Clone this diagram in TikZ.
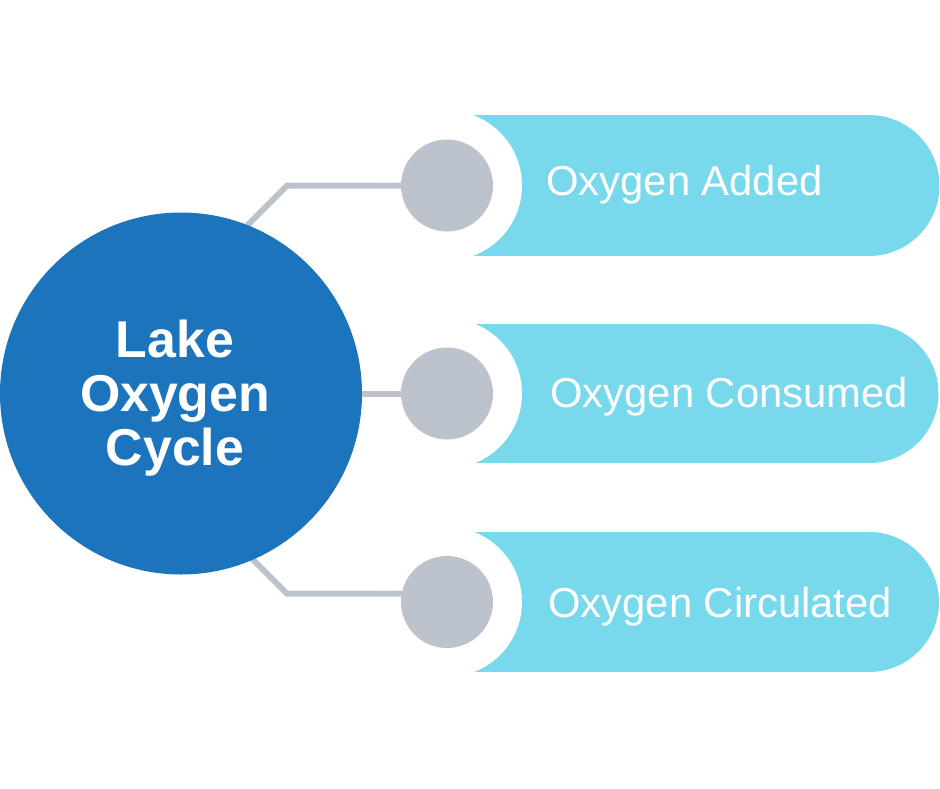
\documentclass[tikz,border=0pt]{standalone}
\usepackage{fontspec}
\setmainfont{Liberation Sans}
\usetikzlibrary{backgrounds}
\definecolor{hubblue}{HTML}{1C75BC}
\definecolor{pillcyan}{HTML}{78D9EC}
\definecolor{dotgrey}{HTML}{BDC3CD}
\tikzset{
  pill/.style={fill=pillcyan},
  cutout/.style={fill=white},
  conn/.style={draw=dotgrey, line width=6pt},
  dot/.style={circle, fill=dotgrey, minimum size=92pt, inner sep=0pt},
  hub/.style={circle, fill=hubblue, minimum size=362pt, inner sep=0pt},
  hubtext/.style={text=white, inner sep=0pt, anchor=base, font=\fontsize{51.8}{54}\selectfont\bfseries},
  pilltext/.style={text=white, inner sep=0pt, anchor=base west, font=\fontsize{41.8}{50}\selectfont}
}
\begin{document}
\begin{tikzpicture}[x=1pt,y=-1pt]
\useasboundingbox (0,0) rectangle (940,788);
% nodes
\node[hub] (hub) at (181,393.5) {};
\node[dot] (g1) at (447,185.5) {};
\node[dot] (g2) at (447,393.5) {};
\node[dot] (g3) at (447,602) {};
\coordinate (k1) at (287,185.5);
\coordinate (e1) at (207,265.5);
\coordinate (k3) at (287,593.5);
\coordinate (e3) at (217,523.5);
\coordinate (h3) at (g3.center |- k3);
\begin{scope}[on background layer]
% pills
\fill[pill] (450,115) rectangle (869,256);
\fill[pill] (869,185.5) circle (70.5);
\fill[pill] (450,324) rectangle (869,463);
\fill[pill] (869,393.5) circle (69.5);
\fill[pill] (450,532) rectangle (869,672);
\fill[pill] (869,602) circle (70);
% white cut-outs
\fill[cutout] (447,185.5) circle (75);
\fill[cutout] (447,393.5) circle (75);
\fill[cutout] (447,602) circle (75);
% connectors
\draw[conn] (e1) -- (k1) -- (g1.center);
\draw[conn] (e3) -- (k3) -- (h3);
\draw[conn] (hub.center) -- (g2.center);
\end{scope}
% hub text
\node[hubtext] (t1) at (175,357) {Lake};
\node[hubtext] (t2) at (175,411.5) {Oxygen};
\node[hubtext] (t3) at (175,465.5) {Cycle};
% pill texts
\node[pilltext] (p1) at (546,195.5) {Oxygen Added};
\node[pilltext] (p2) at (550,407.5) {Oxygen Consumed};
\node[pilltext] (p3) at (548,617.5) {Oxygen Circulated};
\end{tikzpicture}
\end{document}
